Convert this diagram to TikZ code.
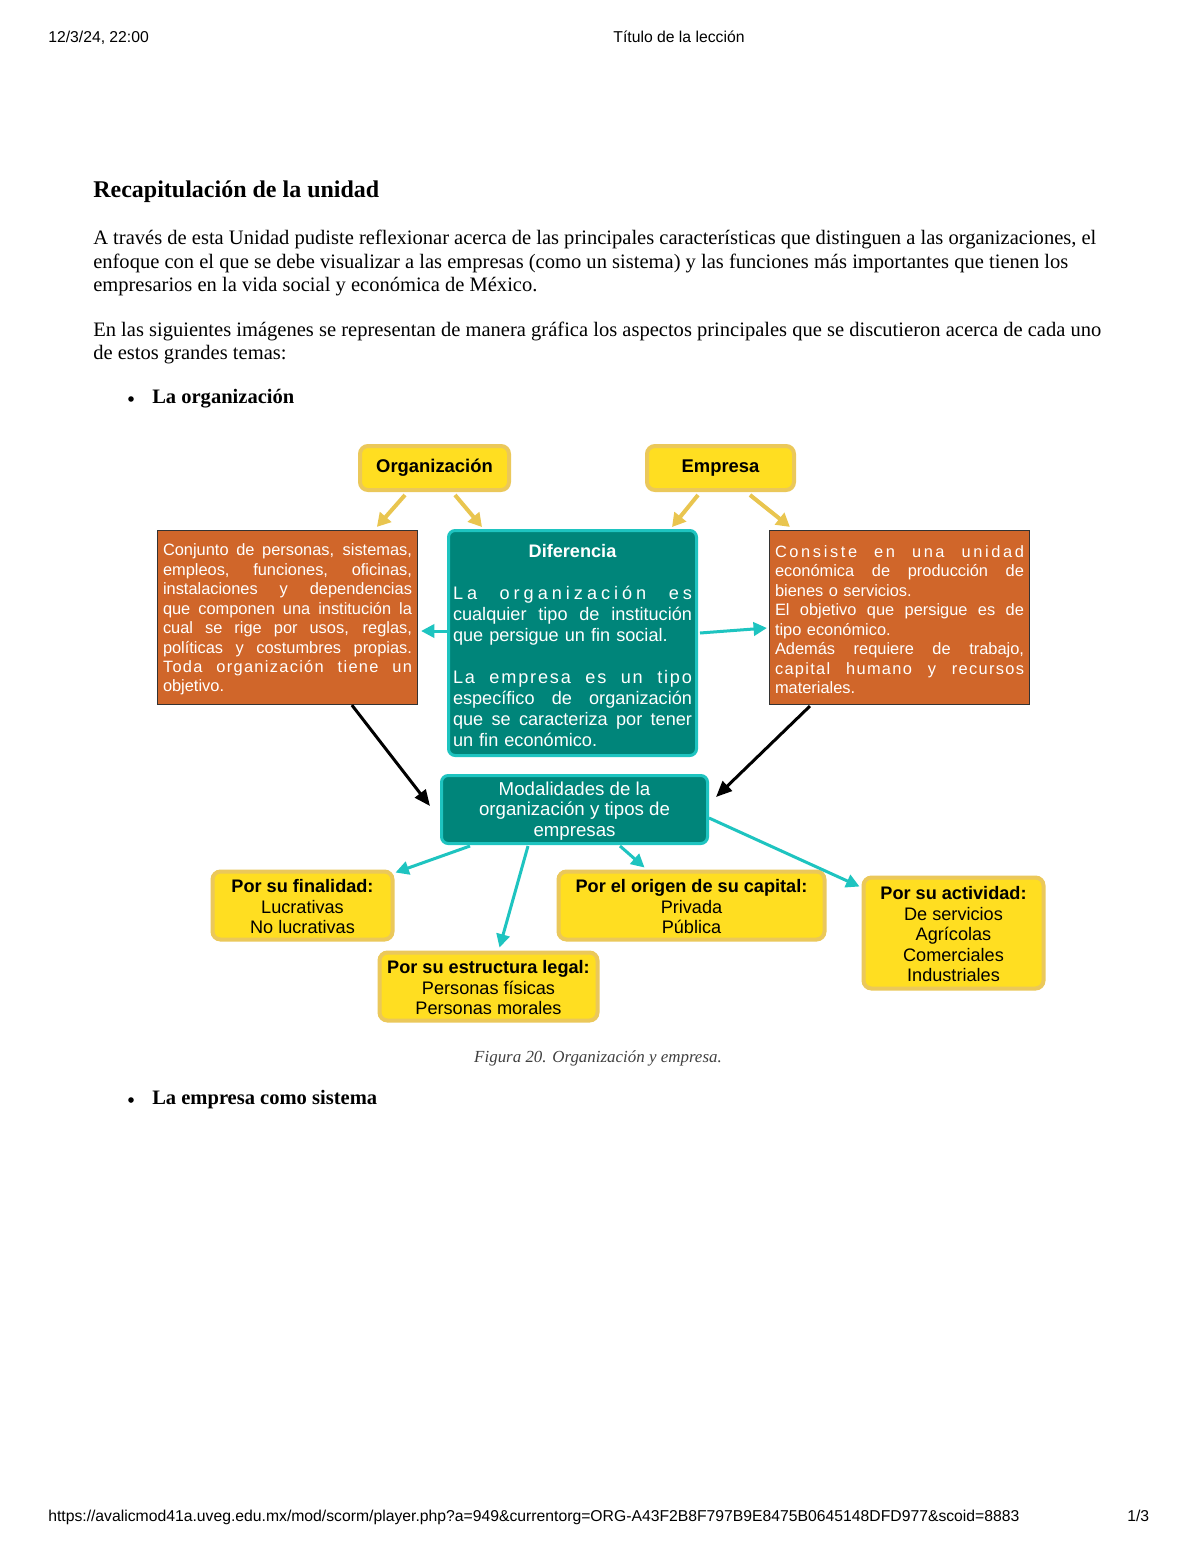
\documentclass[tikz,border=0pt]{standalone}
\usepackage{fontspec}
\setmainfont{Liberation Serif}
\setsansfont{Liberation Sans}
\usetikzlibrary{arrows.meta,calc}
\definecolor{yfill}{HTML}{FFDE21}
\definecolor{yborder}{HTML}{EBC85A}
\definecolor{orng}{HTML}{D0662A}
\definecolor{tealf}{HTML}{00857A}
\definecolor{cyanb}{HTML}{1EC4C0}
\definecolor{goldarr}{HTML}{E9C54F}
\newcommand\jline[1]{\makebox[\hsize][s]{\spaceskip=0pt\xspaceskip=0pt #1}}
\newcommand\jlsp[2]{\makebox[\hsize][s]{\addfontfeature{LetterSpace=#1}\spaceskip=0pt\xspaceskip=0pt #2}}
\begin{document}
\begin{tikzpicture}[x=0.75pt,y=-0.75pt,
  hdr/.style={font=\sffamily\fontsize{11.8}{13}\selectfont, inner sep=0pt},
  body/.style={font=\fontsize{15.4}{18}\selectfont, inner sep=0pt, anchor=base west},
  yelbox/.style={draw=yborder, fill=yfill, line width=3pt, rounded corners=6pt, inner sep=0pt, align=center, font=\sffamily\fontsize{13.6}{15.4}\selectfont},
  orbox/.style={draw=black!80, fill=orng, line width=0.9pt, inner sep=0pt, align=left, text=white, font=\sffamily\fontsize{12.3}{14.6}\selectfont},
  tlbox/.style={draw=cyanb, fill=tealf, line width=2.25pt, rounded corners=5pt, inner sep=0pt, text=white},
  garrow/.style={draw=goldarr, line width=3pt, -{Triangle[length=10pt,width=11pt]}},
  carrow/.style={draw=cyanb, line width=2.25pt, -{Triangle[length=10pt,width=10pt]}},
  karrow/.style={draw=black, line width=2.25pt, -{Triangle[length=12pt,width=10pt]}}
]
\fill[white] (0,0) rectangle (1200,1553);
\path[use as bounding box] (0,0) rectangle (1200,1553);

% header
\node[hdr, anchor=base west] (date) at (48,42) {12/3/24, 22:00};
\node[hdr, anchor=base] (title) at (679,42) {Título de la lección};

% heading and paragraphs
\node[body, font=\bfseries\fontsize{18}{21}\selectfont] (head) at (93,197) {Recapitulación de la unidad};
\node[body] (p1a) at (93,244) {A través de esta Unidad pudiste reflexionar acerca de las principales características que distinguen a las organizaciones, el};
\node[body] (p1b) at (93,268) {enfoque con el que se debe visualizar a las empresas (como un sistema) y las funciones más importantes que tienen los};
\node[body] (p1c) at (93,291) {empresarios en la vida social y económica de México.};
\node[body] (p2a) at (93,336) {En las siguientes imágenes se representan de manera gráfica los aspectos principales que se discutieron acerca de cada uno};
\node[body] (p2b) at (93,359) {de estos grandes temas:};
\fill (131,399) circle (2.8);
\node[body, font=\bfseries\fontsize{15.4}{18}\selectfont] (b1) at (152,403) {La organización};

% diagram boxes
\node[yelbox, font=\sffamily\bfseries\fontsize{13.8}{15}\selectfont, minimum width=149*0.75pt, minimum height=44*0.75pt] (org) at (434.5,468) {Organización};
\node[yelbox, font=\sffamily\bfseries\fontsize{13.8}{15}\selectfont, minimum width=147*0.75pt, minimum height=44*0.75pt] (emp) at (720.5,468) {Empresa};

\node[orbox, minimum width=260*0.75pt, minimum height=174*0.75pt, text width=249*0.75pt] (lor) at (287.5,617.5) {%
\rule{0pt}{12pt}\jline{Conjunto de personas, sistemas,}\\
\jline{empleos, funciones, oficinas,}\\
\jline{instalaciones y dependencias}\\
\jline{que componen una institución la}\\
\jline{cual se rige por usos, reglas,}\\
\jline{políticas y costumbres propias.}\\
\jlsp{8}{Toda organización tiene un}\\
objetivo.};

\node[orbox, minimum width=260*0.75pt, minimum height=174*0.75pt, text width=249*0.75pt] (ror) at (899.5,617.5) {%
\rule{0pt}{12pt}\jlsp{16}{Consiste en una unidad}\\
\jline{económica de producción de}\\
bienes o servicios.\\
\jline{El objetivo que persigue es de}\\
tipo económico.\\
\jline{Además requiere de trabajo,}\\
\jlsp{8}{capital humano y recursos}\\
materiales.};

\node[tlbox, minimum width=248*0.75pt, minimum height=225*0.75pt, text width=239*0.75pt, align=left, font=\sffamily\fontsize{13.6}{15.75}\selectfont] (dif) at (572.5,643) {%
\rule{0pt}{13pt}\makebox[\hsize]{\bfseries Diferencia}\\[15.75pt]
\jlsp{22}{La organización es}\\
\jline{cualquier tipo de institución}\\
que persigue un fin social.\\[15.75pt]
\jlsp{10}{La empresa es un tipo}\\
\jline{específico de organización}\\
\jline{que se caracteriza por tener}\\
un fin económico.};

\node[tlbox, minimum width=266*0.75pt, minimum height=68*0.75pt, align=center, font=\sffamily\fontsize{14}{15.4}\selectfont] (mod) at (574.5,809.5) {\rule{0pt}{12pt}Modalidades de la\\organización y tipos de\\empresas};

\node[yelbox, minimum width=180*0.75pt, minimum height=68*0.75pt] (fin) at (302.5,905.5) {\rule{0pt}{12pt}\textbf{Por su finalidad:}\\Lucrativas\\No lucrativas};
\node[yelbox, minimum width=218*0.75pt, minimum height=68*0.75pt] (est) at (488.5,986.5) {\rule{0pt}{12pt}\textbf{Por su estructura legal:}\\Personas físicas\\Personas morales};
\node[yelbox, minimum width=266*0.75pt, minimum height=68*0.75pt] (cap) at (691.5,905.5) {\rule{0pt}{12pt}\textbf{Por el origen de su capital:}\\Privada\\Pública};
\node[yelbox, minimum width=180*0.75pt, minimum height=111*0.75pt] (act) at (953.5,933) {\rule{0pt}{12pt}\textbf{Por su actividad:}\\De servicios\\Agrícolas\\Comerciales\\Industriales};

% arrows
\draw[garrow] ($(org.south west)+(47,3)$) -- ($(lor.north west)+(220,-3)$);
\draw[garrow] ($(org.south west)+(97,3)$) -- ($(dif.north west)+(35,-2)$);
\draw[garrow] ($(emp.south west)+(53,3)$) -- ($(dif.north west)+(225,-2)$);
\draw[garrow] ($(emp.south west)+(105,3)$) -- ($(ror.north west)+(21,-3)$);

\draw[carrow] ($(dif.west)+(0,-12)$) -- ($(lor.east)+(3,13.5)$);
\draw[carrow] ($(dif.east)+(2,-10)$) -- ($(ror.west)+(-2,10.5)$);

\draw[karrow] ($(lor.south west)+(195,0)$) -- ($(mod.west)+(-10,-3.5)$);
\draw[karrow] ($(ror.south west)+(41,1)$) -- ($(mod.east)+(7,-12.5)$);

\draw[carrow] ($(mod.south west)+(30,1)$) -- ($(fin.north east)+(1,3)$);
\draw[carrow] ($(mod.south west)+(88,1)$) -- ($(est.north west)+(122,-3)$);
\draw[carrow] ($(mod.south west)+(180,1)$) -- ($(cap.north west)+(88,-2)$);
\draw[carrow] ($(mod.east)+(0,8.5)$) -- ($(act.north west)+(-2,11)$);

% caption and second bullet
\node[inner sep=0pt, anchor=base, text=black!75, font=\itshape\fontsize{12.7}{15}\selectfont] (capt) at (598,1062) {Figura 20. Organización y empresa.};
\fill (131,1100) circle (2.8);
\node[body, font=\bfseries\fontsize{15.4}{18}\selectfont] (b2) at (152,1104) {La empresa como sistema};

% footer
\node[hdr, anchor=base west] (url) at (48,1521) {https://avalicmod41a.uveg.edu.mx/mod/scorm/player.php?a=949\&currentorg=ORG-A43F2B8F797B9E8475B0645148DFD977\&scoid=8883};
\node[hdr, anchor=base west] (pg) at (1127,1521) {1/3};
\end{tikzpicture}
\end{document}
